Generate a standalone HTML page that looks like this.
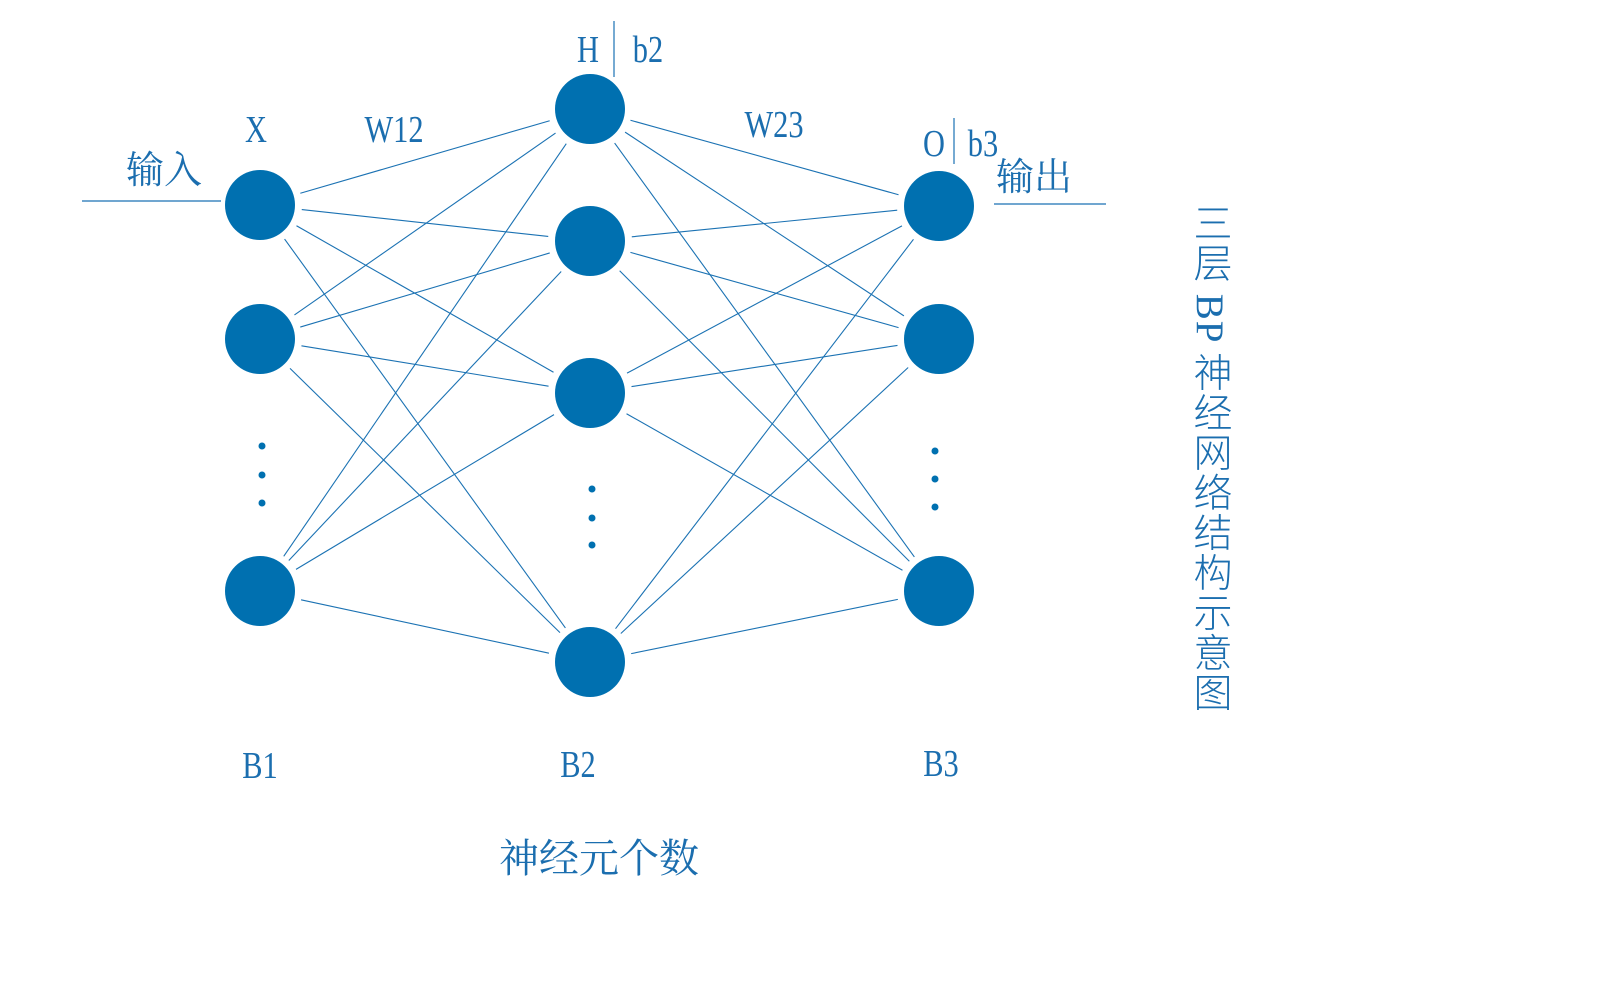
<!DOCTYPE html>
<html><head><meta charset="utf-8"><style>
html,body{margin:0;padding:0;background:#fff;width:1600px;height:1000px;overflow:hidden}
svg{position:absolute;left:0;top:0}
text{font-family:"Liberation Serif","Noto Serif CJK SC",serif;fill:#1b6eaf}
.v{position:absolute;left:1188px;top:203px;writing-mode:vertical-rl;font-family:"Liberation Serif","Noto Sans CJK SC",sans-serif;font-size:39px;color:#1b6eaf;line-height:42px;letter-spacing:1px;font-weight:300}
</style></head><body>
<svg width="1600" height="1000" id="s">
<g id="lines" stroke="#1b72b3" stroke-width="1.1"></g>
<g fill="#0070b0">
<circle cx="260" cy="205" r="35"/><circle cx="260" cy="339" r="35"/><circle cx="260" cy="591" r="35"/>
<circle cx="590" cy="109" r="35"/><circle cx="590" cy="241" r="35"/><circle cx="590" cy="393" r="35"/><circle cx="590" cy="662" r="35"/>
<circle cx="939" cy="206" r="35"/><circle cx="939" cy="339" r="35"/><circle cx="939" cy="591" r="35"/>
<circle cx="262" cy="446" r="3.5"/><circle cx="262" cy="475" r="3.5"/><circle cx="262" cy="503" r="3.5"/>
<circle cx="592" cy="489" r="3.5"/><circle cx="592" cy="518" r="3.5"/><circle cx="592" cy="545" r="3.5"/>
<circle cx="935" cy="451" r="3.5"/><circle cx="935" cy="479" r="3.5"/><circle cx="935" cy="507" r="3.5"/>
</g>
<g stroke="#1b72b3" stroke-width="1.2">
<line x1="82" y1="201" x2="221" y2="201"/>
<line x1="994" y1="204" x2="1106" y2="204"/>
<line x1="614" y1="21" x2="614" y2="77"/>
<line x1="954" y1="118" x2="954" y2="164"/>
</g>
<g font-size="38" text-anchor="middle">
<text x="256" y="142" transform="translate(256 0) scale(0.8 1) translate(-256 0)">X</text>
<text x="394" y="142" transform="translate(394 0) scale(0.8 1) translate(-394 0)">W12</text>
<text x="588" y="62" transform="translate(588 0) scale(0.8 1) translate(-588 0)">H</text>
<text x="648" y="62" transform="translate(648 0) scale(0.8 1) translate(-648 0)">b2</text>
<text x="774" y="137" transform="translate(774 0) scale(0.8 1) translate(-774 0)">W23</text>
<text x="934" y="156" transform="translate(934 0) scale(0.8 1) translate(-934 0)">O</text>
<text x="983" y="156" transform="translate(983 0) scale(0.8 1) translate(-983 0)">b3</text>
<text x="260" y="778" transform="translate(260 0) scale(0.8 1) translate(-260 0)">B1</text>
<text x="578" y="777" transform="translate(578 0) scale(0.8 1) translate(-578 0)">B2</text>
<text x="941" y="776" transform="translate(941 0) scale(0.8 1) translate(-941 0)">B3</text>
<text x="164" y="183" font-size="38">输入</text>
<text x="1034" y="190" font-size="38">输出</text>
<text x="599" y="872" font-size="40">神经元个数</text>
</g>
</svg>
<div class="v">三层 BP 神经网络结构示意图</div>
<script>
var c1=[[260,205],[260,339],[260,591]],c2=[[590,109],[590,241],[590,393],[590,662]],c3=[[939,206],[939,339],[939,591]];
var g=document.getElementById('lines'),ns="http://www.w3.org/2000/svg";
function L(a,b){var dx=b[0]-a[0],dy=b[1]-a[1],d=Math.hypot(dx,dy),o=42;
var l=document.createElementNS(ns,'line');l.setAttribute('x1',a[0]+dx/d*o);l.setAttribute('y1',a[1]+dy/d*o);l.setAttribute('x2',b[0]-dx/d*o);l.setAttribute('y2',b[1]-dy/d*o);g.appendChild(l);}
c1.forEach(function(a){c2.forEach(function(b){L(a,b)})});
c2.forEach(function(a){c3.forEach(function(b){L(a,b)})});
</script>
</body></html>
